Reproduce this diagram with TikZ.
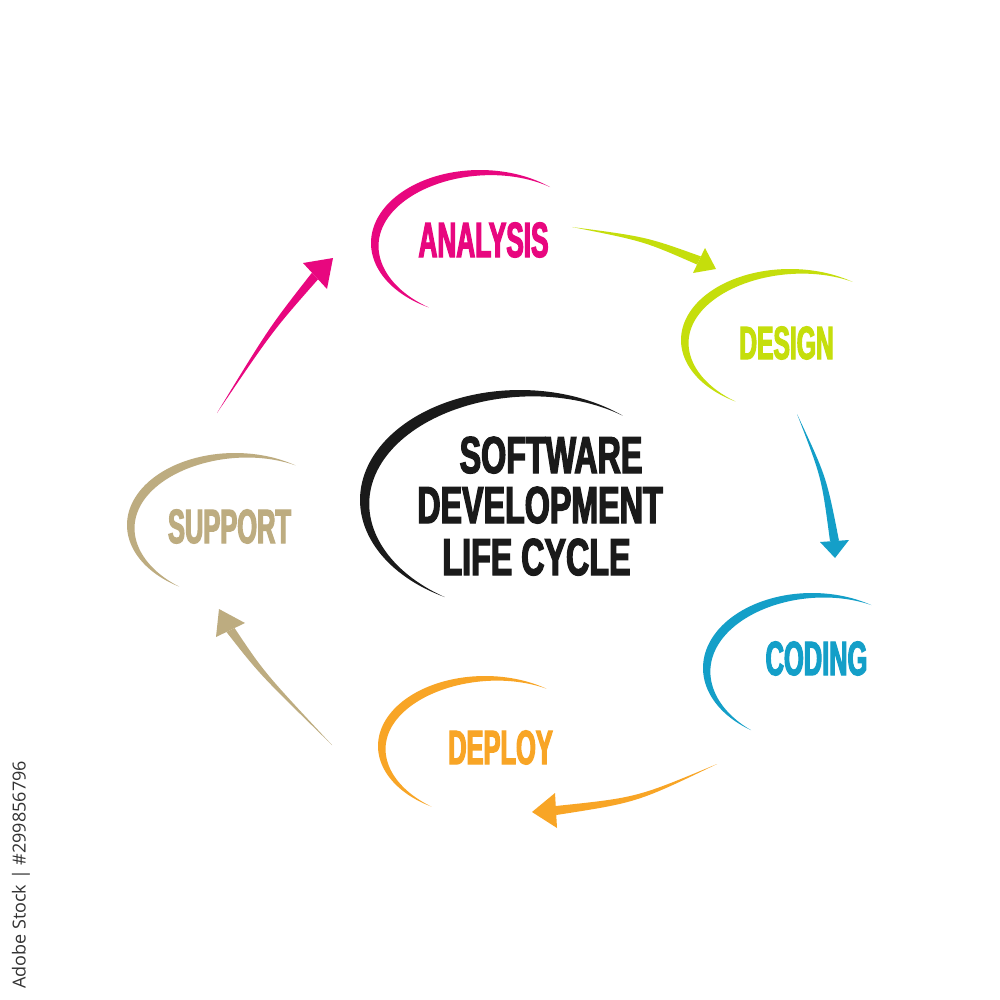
\documentclass[tikz,border=0pt]{standalone}
\usepackage{fontspec}
\usetikzlibrary{calc}
\newfontfamily\lblfont{Liberation Sans Bold}[FakeStretch=0.53,FakeBold=2.5]
\newfontfamily\ttlfont{Liberation Sans Bold}[FakeStretch=0.62,FakeBold=2.5]
\newfontfamily\wmfont{Open Sans}
\definecolor{cpink}{HTML}{E8077F}
\definecolor{clime}{HTML}{C5DE0C}
\definecolor{cblue}{HTML}{149FC8}
\definecolor{corange}{HTML}{F8A526}
\definecolor{ctan}{HTML}{BDAC80}
\definecolor{cblack}{HTML}{1A1A1A}
\newcommand\crescent[8]{%
 \fill[#8] plot[domain=#5:#6,samples=90] ({#1+#3*cos(\x)},{#2-#4*sin(\x)})
  -- plot[domain=#6:#5,samples=90] ({#1+(#3-#7*sin(((\x-#5)/(#6-#5))*180))*cos(\x)},{#2-(#4-#7*sin(((\x-#5)/(#6-#5))*180))*sin(\x)}) -- cycle;}
\newcommand\taparrow[6]{%
 \coordinate (tmpB) at ($(#4)!0.5!(#5)$);
 \coordinate (tmpP) at ($(tmpB)!4.5pt!(#4)$);
 \coordinate (tmpQ) at ($(tmpB)!4.5pt!(#5)$);
 \coordinate (tmpK1) at ($(#2)+0.55*(tmpP)-0.55*(tmpB)$);
 \coordinate (tmpK2) at ($(#2)+0.55*(tmpQ)-0.55*(tmpB)$);
 \fill[#6] (#1) .. controls (tmpK1) .. (tmpP) -- (tmpQ) .. controls (tmpK2) .. (#1) -- cycle;
 \fill[#6] (#3) -- (#4) -- (#5) -- cycle;}
\tikzset{
  lbl/.style={anchor=base, inner sep=0pt, font=\lblfont\fontsize{48}{50}\selectfont},
  ttl/.style={anchor=base, inner sep=0pt, text=cblack, font=\ttlfont\fontsize{52}{52}\selectfont}
}
\begin{document}
\begin{tikzpicture}[x=1pt,y=-1pt]
\fill[white] (0,0) rectangle (1000,1000);
\useasboundingbox (0,0) rectangle (1000,1000);
% crescents
\crescent{480}{243}{109}{73}{50}{242}{9}{cpink}
\crescent{790}{340}{109}{71}{55}{240}{9}{clime}
\crescent{812}{668}{109}{75}{57}{236}{9}{cblue}
\crescent{485}{746}{107}{70}{55}{240}{9}{corange}
\crescent{235}{525}{108}{72}{56}{239}{9}{ctan}
\crescent{520}{500}{160}{110}{50}{242}{11}{cblack}
% labels
\node[lbl, text=cpink, font=\lblfont\fontsize{49.4}{50}\selectfont] (analysis) at (483.5,257) {ANALYSIS};
\node[lbl, text=clime, font=\lblfont\fontsize{46.5}{50}\selectfont] (design) at (786.5,359) {DESIGN};
\node[lbl, text=cblue] (coding) at (816.5,675) {CODING};
\node[lbl, text=corange] (deploy) at (500.5,764) {DEPLOY};
\node[lbl, text=ctan] (support) at (229.5,543) {SUPPORT};
\node[ttl] (title1) at (551,473) {SOFTWARE};
\node[ttl] (title2) at (540,523) {DEVELOPMENT};
\node[ttl] (title3) at (536.5,575) {LIFE CYCLE};
% arrows
\coordinate (p1t) at (217,413); \coordinate (p1k) at (271,329);
\coordinate (p1h) at (333,258); \coordinate (p1a) at (303,263); \coordinate (p1b) at (327,289);
\taparrow{p1t}{p1k}{p1h}{p1a}{p1b}{cpink}
\coordinate (p2t) at (572,227); \coordinate (p2k) at (645,239);
\coordinate (p2h) at (716,269); \coordinate (p2a) at (705,248); \coordinate (p2b) at (693,273);
\taparrow{p2t}{p2k}{p2h}{p2a}{p2b}{clime}
\coordinate (p3t) at (797,414); \coordinate (p3k) at (824,477);
\coordinate (p3h) at (835,558); \coordinate (p3a) at (820,542); \coordinate (p3b) at (849,540);
\taparrow{p3t}{p3k}{p3h}{p3a}{p3b}{cblue}
\coordinate (p4t) at (717,764); \coordinate (p4k) at (637,800);
\coordinate (p4h) at (532,812); \coordinate (p4a) at (555,793); \coordinate (p4b) at (557,828);
\taparrow{p4t}{p4k}{p4h}{p4a}{p4b}{corange}
\coordinate (p5t) at (332,745); \coordinate (p5k) at (262,673.5);
\coordinate (p5h) at (219,609); \coordinate (p5a) at (216,637); \coordinate (p5b) at (245,623);
\taparrow{p5t}{p5k}{p5h}{p5a}{p5b}{ctan}
% watermark
\node[rotate=90, inner sep=0pt, text=black!80, font=\wmfont\fontsize{18}{20}\selectfont] (wm) at (21,875) {Adobe Stock | \#299856796};
\end{tikzpicture}
\end{document}
